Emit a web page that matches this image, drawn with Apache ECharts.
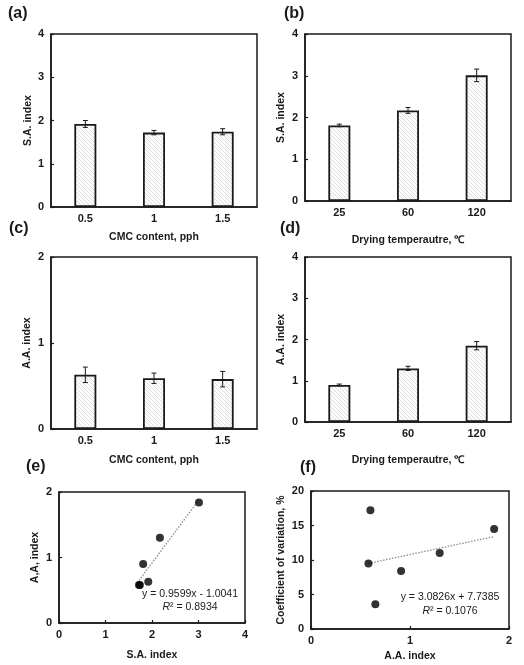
<!DOCTYPE html>
<html>
<head>
<meta charset="utf-8">
<script src="https://cdn.jsdelivr.net/npm/echarts@6/dist/echarts.min.js"></script>
<style>
  html, body { margin: 0; padding: 0; background: #fff; }
  #chart { width: 524px; height: 665px; }
</style>
</head>
<body>
<div id="chart"></div>
<script>
// == Data ====================================================================

const cmcCats = ['0.5', '1', '1.5']
const tempCats = ['25', '60', '120']

const saCmc = [1.92, 1.72, 1.74]
const saCmcErr = [0.08, 0.05, 0.07]
const saTemp = [1.81, 2.17, 3.01]
const saTempErr = [0.03, 0.07, 0.15]

const aaCmc = [0.63, 0.59, 0.58]
const aaCmcErr = [0.09, 0.06, 0.09]
const aaTemp = [0.90, 1.30, 1.85]
const aaTempErr = [0.02, 0.05, 0.10]

// (e) S.A. index vs A.A. index
const saAaPoints = [[1.92, 0.63], [1.72, 0.58], [1.74, 0.58], [1.81, 0.90], [2.17, 1.30], [3.01, 1.84]]
const saAaTrend = [[1.72, 0.65], [3.01, 1.88]]

// (f) A.A. index vs coefficient of variation
const cvPoints = [[0.60, 17.2], [0.58, 9.5], [0.65, 3.6], [0.91, 8.4], [1.30, 11.0], [1.85, 14.5]]
const cvTrend = [[0.58, 9.5], [1.85, 13.4]]

// == Style ===================================================================

const FONT = '"Liberation Sans", Arial, sans-serif'
const INK = '#1a1a1a'

// light diagonal hatch used as bar fill
function hatch () {
  const s = 4
  const c = document.createElement('canvas')
  c.width = s
  c.height = s
  const ctx = c.getContext('2d')
  ctx.fillStyle = '#fcfcfc'
  ctx.fillRect(0, 0, s, s)
  ctx.strokeStyle = '#dedede'
  ctx.lineWidth = 1
  for (const k of [-s, 0, s]) {
    ctx.beginPath()
    ctx.moveTo(0, k)
    ctx.lineTo(s, s + k)
    ctx.stroke()
  }
  return {image: c, repeat: 'repeat'}
}
const HATCH = hatch()

const grids = [
  {left: 51, top: 34, width: 206, height: 173},
  {left: 305, top: 34, width: 206, height: 167},
  {left: 51, top: 257, width: 206, height: 172},
  {left: 305, top: 257, width: 206, height: 165},
  {left: 59, top: 492, width: 186, height: 131},
  {left: 311, top: 491, width: 198, height: 138}
].map(g => Object.assign({show: true, borderColor: INK, borderWidth: 1.5, backgroundColor: 'transparent'}, g))

const labelStyle = {color: INK, fontFamily: FONT, fontSize: 11, fontWeight: 'bold'}
const nameStyle = {color: INK, fontFamily: FONT, fontSize: 10.5, fontWeight: 'bold'}

function xAxis (i, opts) {
  return Object.assign({
    gridIndex: i,
    nameLocation: 'middle',
    nameTextStyle: nameStyle,
    axisLine: {lineStyle: {color: INK, width: 1.5}},
    axisTick: {inside: true, length: 3, lineStyle: {color: INK, width: 1.2}},
    axisLabel: Object.assign({margin: 6}, labelStyle),
    splitLine: {show: false}
  }, opts)
}

function yAxis (i, opts) {
  return Object.assign({
    gridIndex: i,
    type: 'value',
    min: 0,
    interval: 1,
    nameLocation: 'middle',
    nameTextStyle: nameStyle,
    axisLine: {show: true, lineStyle: {color: INK, width: 1.5}},
    axisTick: {show: true, inside: true, length: 3, lineStyle: {color: INK, width: 1.2}},
    axisLabel: Object.assign({margin: 7}, labelStyle),
    splitLine: {show: false}
  }, opts)
}

function bars (i, values) {
  return {
    type: 'bar',
    xAxisIndex: i,
    yAxisIndex: i,
    data: values,
    barWidth: 22,
    itemStyle: {color: HATCH, borderColor: INK, borderWidth: 1.8},
    silent: true
  }
}

function errorBars (i, values, errs) {
  return {
    type: 'custom',
    xAxisIndex: i,
    yAxisIndex: i,
    z: 5,
    silent: true,
    data: values.map((v, k) => [k, v, errs[k]]),
    renderItem (params, api) {
      const x = api.value(0)
      const v = api.value(1)
      const e = api.value(2)
      const hi = api.coord([x, v + e])
      const lo = api.coord([x, v - e])
      const cap = 2.5
      const st = {stroke: INK, lineWidth: 1}
      return {
        type: 'group',
        children: [
          {type: 'line', shape: {x1: hi[0], y1: hi[1], x2: lo[0], y2: lo[1]}, style: st},
          {type: 'line', shape: {x1: hi[0] - cap, y1: hi[1], x2: hi[0] + cap, y2: hi[1]}, style: st},
          {type: 'line', shape: {x1: lo[0] - cap, y1: lo[1], x2: lo[0] + cap, y2: lo[1]}, style: st}
        ]
      }
    }
  }
}

function dots (i, points) {
  return {
    type: 'scatter',
    xAxisIndex: i,
    yAxisIndex: i,
    data: points,
    symbolSize: 8,
    itemStyle: {color: '#000'},
    z: 4,
    silent: true
  }
}

function trend (i, points) {
  return {
    type: 'line',
    xAxisIndex: i,
    yAxisIndex: i,
    data: points,
    symbol: 'none',
    lineStyle: {color: '#8a8a8a', width: 1.3, type: [1.5, 1.5]},
    z: 3,
    silent: true
  }
}

function panelLabel (text, left, top) {
  return {text, left, top, padding: 0, textStyle: {fontFamily: FONT, fontSize: 16, fontWeight: 'bold', color: INK}}
}

function eqText (text, x, y, italicR) {
  const base = {fontFamily: FONT, fontSize: 10.5, fill: INK, textAlign: 'center', textVerticalAlign: 'middle'}
  if (!italicR) return {type: 'text', x, y, style: Object.assign({text}, base)}
  return {
    type: 'text',
    x,
    y,
    style: Object.assign({text: '{i|R}' + text, rich: {i: {fontStyle: 'italic', fontFamily: FONT, fontSize: 10.5, fill: INK}}}, base)
  }
}

// == Chart ===================================================================

const option = {
  animation: false,
  backgroundColor: '#fff',
  title: [
    panelLabel('(a)', 8, 6),
    panelLabel('(b)', 284, 6),
    panelLabel('(c)', 9, 221),
    panelLabel('(d)', 280, 221),
    panelLabel('(e)', 26, 459),
    panelLabel('(f)', 300, 460)
  ],
  grid: grids,
  xAxis: [
    xAxis(0, {type: 'category', data: cmcCats, name: 'CMC content, pph', nameGap: 25}),
    xAxis(1, {type: 'category', data: tempCats, name: 'Drying temperautre, ℃', nameGap: 34}),
    xAxis(2, {type: 'category', data: cmcCats, name: 'CMC content, pph', nameGap: 26}),
    xAxis(3, {type: 'category', data: tempCats, name: 'Drying temperautre, ℃', nameGap: 33}),
    xAxis(4, {type: 'value', min: 0, max: 4, interval: 1, name: 'S.A. index', nameGap: 27}),
    xAxis(5, {type: 'value', min: 0, max: 2, interval: 1, name: 'A.A. index', nameGap: 22})
  ],
  yAxis: [
    yAxis(0, {max: 4, name: 'S.A. index', nameGap: 13}),
    yAxis(1, {max: 4, name: 'S.A. index', nameGap: 18}),
    yAxis(2, {max: 2, name: 'A.A. index', nameGap: 18}),
    yAxis(3, {max: 4, name: 'A.A. index', nameGap: 18}),
    yAxis(4, {max: 2, name: 'A,A, index', nameGap: 18}),
    yAxis(5, {max: 20, interval: 5, name: 'Coefficient of variation, %', nameGap: 24})
  ],
  series: [
    bars(0, saCmc), errorBars(0, saCmc, saCmcErr),
    bars(1, saTemp), errorBars(1, saTemp, saTempErr),
    bars(2, aaCmc), errorBars(2, aaCmc, aaCmcErr),
    bars(3, aaTemp), errorBars(3, aaTemp, aaTempErr),
    trend(4, saAaTrend), dots(4, saAaPoints),
    trend(5, cvTrend), dots(5, cvPoints)
  ],
  graphic: [
    eqText('y = 0.9599x - 1.0041', 190, 594),
    eqText('² = 0.8934', 190, 607, true),
    eqText('y = 3.0826x + 7.7385', 450, 597),
    eqText('² = 0.1076', 450, 611, true)
  ]
}

echarts.init(document.getElementById('chart')).setOption(option)
</script>
</body>
</html>
